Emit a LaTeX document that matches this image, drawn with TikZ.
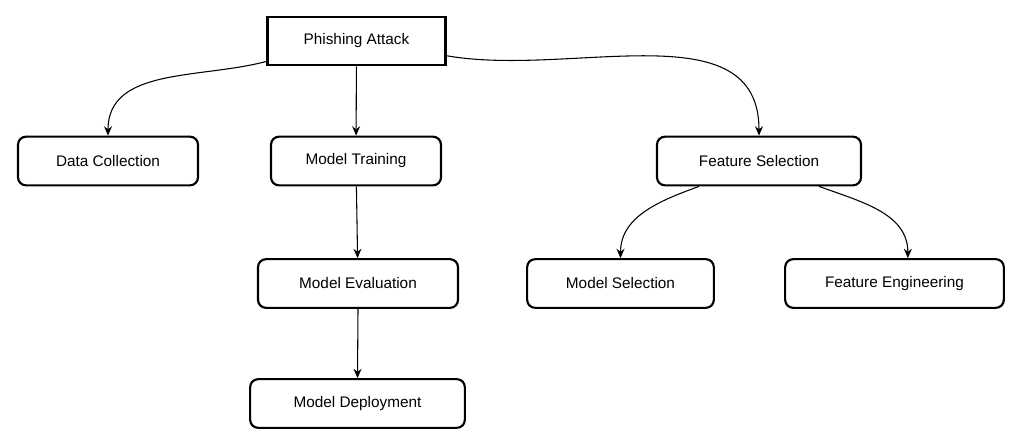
\documentclass[tikz,border=0pt]{standalone}
\usepackage{fontspec}
\setmainfont{Liberation Sans}
\usetikzlibrary{arrows.meta}
\begin{document}
\begin{tikzpicture}[x=0.75pt,y=-0.75pt,
  box/.style={draw,line width=1.6pt,rounded corners=6pt,minimum height=36.5pt,font=\fontsize{11.5}{13}\selectfont,inner sep=0pt},
  root/.style={box,rounded corners=0pt},
  arr/.style={-{Stealth[length=7pt,width=6pt]},line width=0.8pt}]
\useasboundingbox (0,0) rectangle (1024,444);
\node[root,minimum width=133.5pt] (pa) at (356.5,41) {Phishing Attack};
\node[box,minimum width=135pt] (dc) at (108,161) {Data Collection};
\node[box,minimum width=127.5pt] (mt) at (356,161) {Model Training};
\node[box,minimum width=153pt] (fs) at (759,161) {Feature Selection};
\node[box,minimum width=150pt] (me) at (358,283.5) {Model Evaluation};
\node[box,minimum width=140pt] (ms) at (620.5,283.5) {Model Selection};
\node[box,minimum width=164pt] (fe) at (894.5,283.5) {Feature Engineering};
\node[box,minimum width=161pt] (md) at (357.5,403.5) {Model Deployment};
\draw[arr] (pa.south west)+(0,-5) coordinate (a1) (a1) to[out=195,in=90] (dc.north);
\draw[arr] (pa) -- (mt);
\draw[arr] ([yshift=8pt]pa.south east) to[out=-10,in=90] (fs.north);
\draw[arr] (mt) -- (me);
\draw[arr] (me.south) -- (md.north);
\draw[arr] ([xshift=-45pt]fs.south) to[out=200,in=90] (ms.north);
\draw[arr] ([xshift=45pt]fs.south) to[out=-20,in=90] ([xshift=10pt]fe.north);
\end{tikzpicture}
\end{document}
